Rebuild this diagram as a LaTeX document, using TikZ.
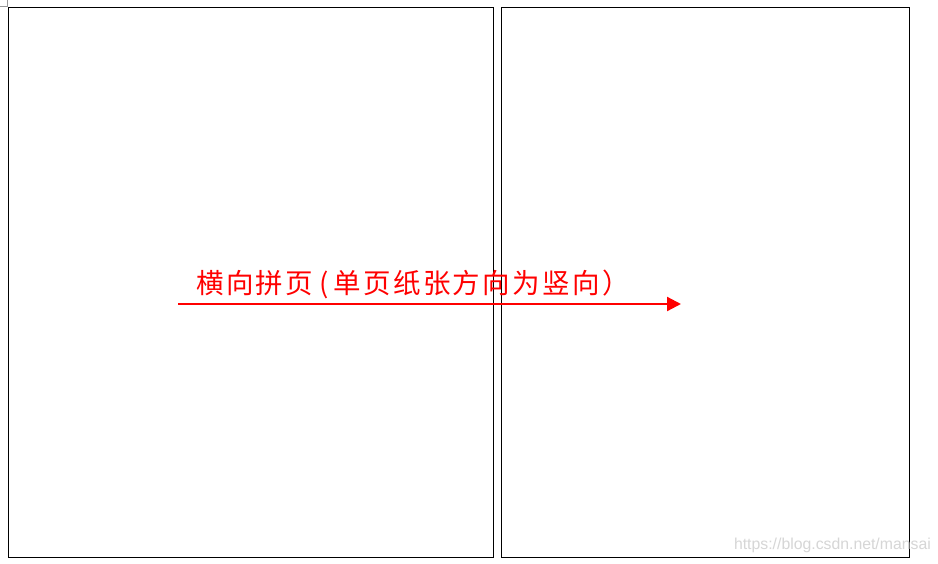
\documentclass[tikz,border=0pt]{standalone}
\usepackage{fontspec}
\setmainfont{Liberation Sans}
\newfontfamily\cjk[LetterSpace=8.5]{Noto Sans CJK SC}
\usetikzlibrary{arrows.meta}
\begin{document}
\begin{tikzpicture}[x=1pt,y=-1pt,
  page/.style={draw=black,line width=1pt},
  redarrow/.style={draw=red,line width=2.2pt,-{Triangle[length=14pt,width=14pt]}},
  lbl/.style={text=red,font=\cjk\fontsize{27.5}{27.5}\selectfont,inner sep=0pt,anchor=west},
  wm/.style={text=black!16,font=\fontsize{15.8}{15.8}\selectfont,inner sep=0pt,anchor=east}]
\useasboundingbox (0,0) rectangle (938,563);
\fill[white] (0,0) rectangle (938,563);
\draw[black!40,line width=0.8pt] (0,6) -- (7,6) -- (7,0);
\draw[page] (8,7) rectangle (493,557);
\draw[page] (501,7) rectangle (909,557);
\coordinate (a) at (178,304);
\coordinate (b) at (681,304);
\draw[redarrow] (a) -- (b);
\node[lbl] (t) at (196,284) {横向拼页\hspace{6pt}(\hspace{5pt}单页纸张方向为竖向）};
\node[wm] (w) at (931,545) {https://blog.csdn.net/mansai};
\end{tikzpicture}
\end{document}
